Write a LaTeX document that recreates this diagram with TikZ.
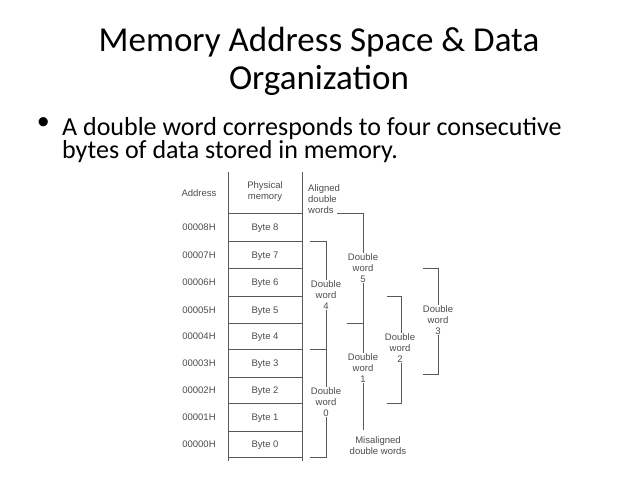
\documentclass[tikz,border=0pt]{standalone}
\usepackage{fontspec}
\setmainfont{Carlito}
\newfontfamily\dfont{Liberation Sans}
\begin{document}
\begin{tikzpicture}[x=1pt,y=-1pt,
  ln/.style={draw=black!65,line width=0.7pt},
  lab/.style={font=\dfont\fontsize{9.5}{11}\selectfont,text=black!70,inner sep=0pt,align=center},
  dw/.style={lab,fill=white,inner sep=1pt}]
\useasboundingbox (0,0) rectangle (638,478);
\node[font=\fontsize{35}{38}\selectfont,align=center] (title) at (319,61) {Memory Address Space \& Data\\Organization};
\node[font=\fontsize{26}{23}\selectfont,anchor=north west,align=left,inner sep=0pt] (bul) at (62,117) {A double word corresponds to four consecutive\\bytes of data stored in memory.};
\node[font=\fontsize{26}{23}\selectfont,anchor=north east,inner sep=0pt] (dot) at (50,117) {\textbullet};
% memory column
\draw[ln] (228,172) -- (228,461) (302,172) -- (302,461);
\foreach \y in {213,241,268,296,323,349,377,403,431,457}{\draw[ln] (228,\y) -- (302,\y);}
\node[lab] (hph) at (265,192) {Physical\\memory};
\node[lab] (had) at (199,193) {Address};
\node[lab,align=left,anchor=west] (hal) at (308,199) {Aligned\\double\\words};
\foreach \i/\y in {8/231,7/258.5,6/286,5/313.5,4/340,3/367,2/394,1/421,0/448}{
  \node[lab,anchor=base] (b\i) at (265,\y) {Byte \i};
  \node[lab,anchor=base] (a\i) at (199,\y) {0000\i H};}
% aligned double words 4 and 0
\draw[ln] (310,241) -- (326,241) -- (326,457) -- (310,457);
\draw[ln] (310,349) -- (326,349);
\node[dw] (dw4) at (326,295) {Double\\word\\4};
\node[dw] (dw0) at (326,402) {Double\\word\\0};
% misaligned 5 and 1
\draw[ln] (337,213) -- (363,213) -- (363,430);
\draw[ln] (347,323) -- (363,323);
\node[dw] (dw5) at (363,268) {Double\\word\\5};
\node[dw] (dw1) at (363,368) {Double\\word\\1};
\node[lab] (mis) at (378,446) {Misaligned\\double words};
% 2
\draw[ln] (387,296) -- (401,296) -- (401,403) -- (387,403);
\node[dw] (dw2) at (400,348) {Double\\word\\2};
% 3
\draw[ln] (423,268) -- (438,268) -- (438,374) -- (423,374);
\node[dw] (dw3) at (438,320) {Double\\word\\3};
\end{tikzpicture}
\end{document}
